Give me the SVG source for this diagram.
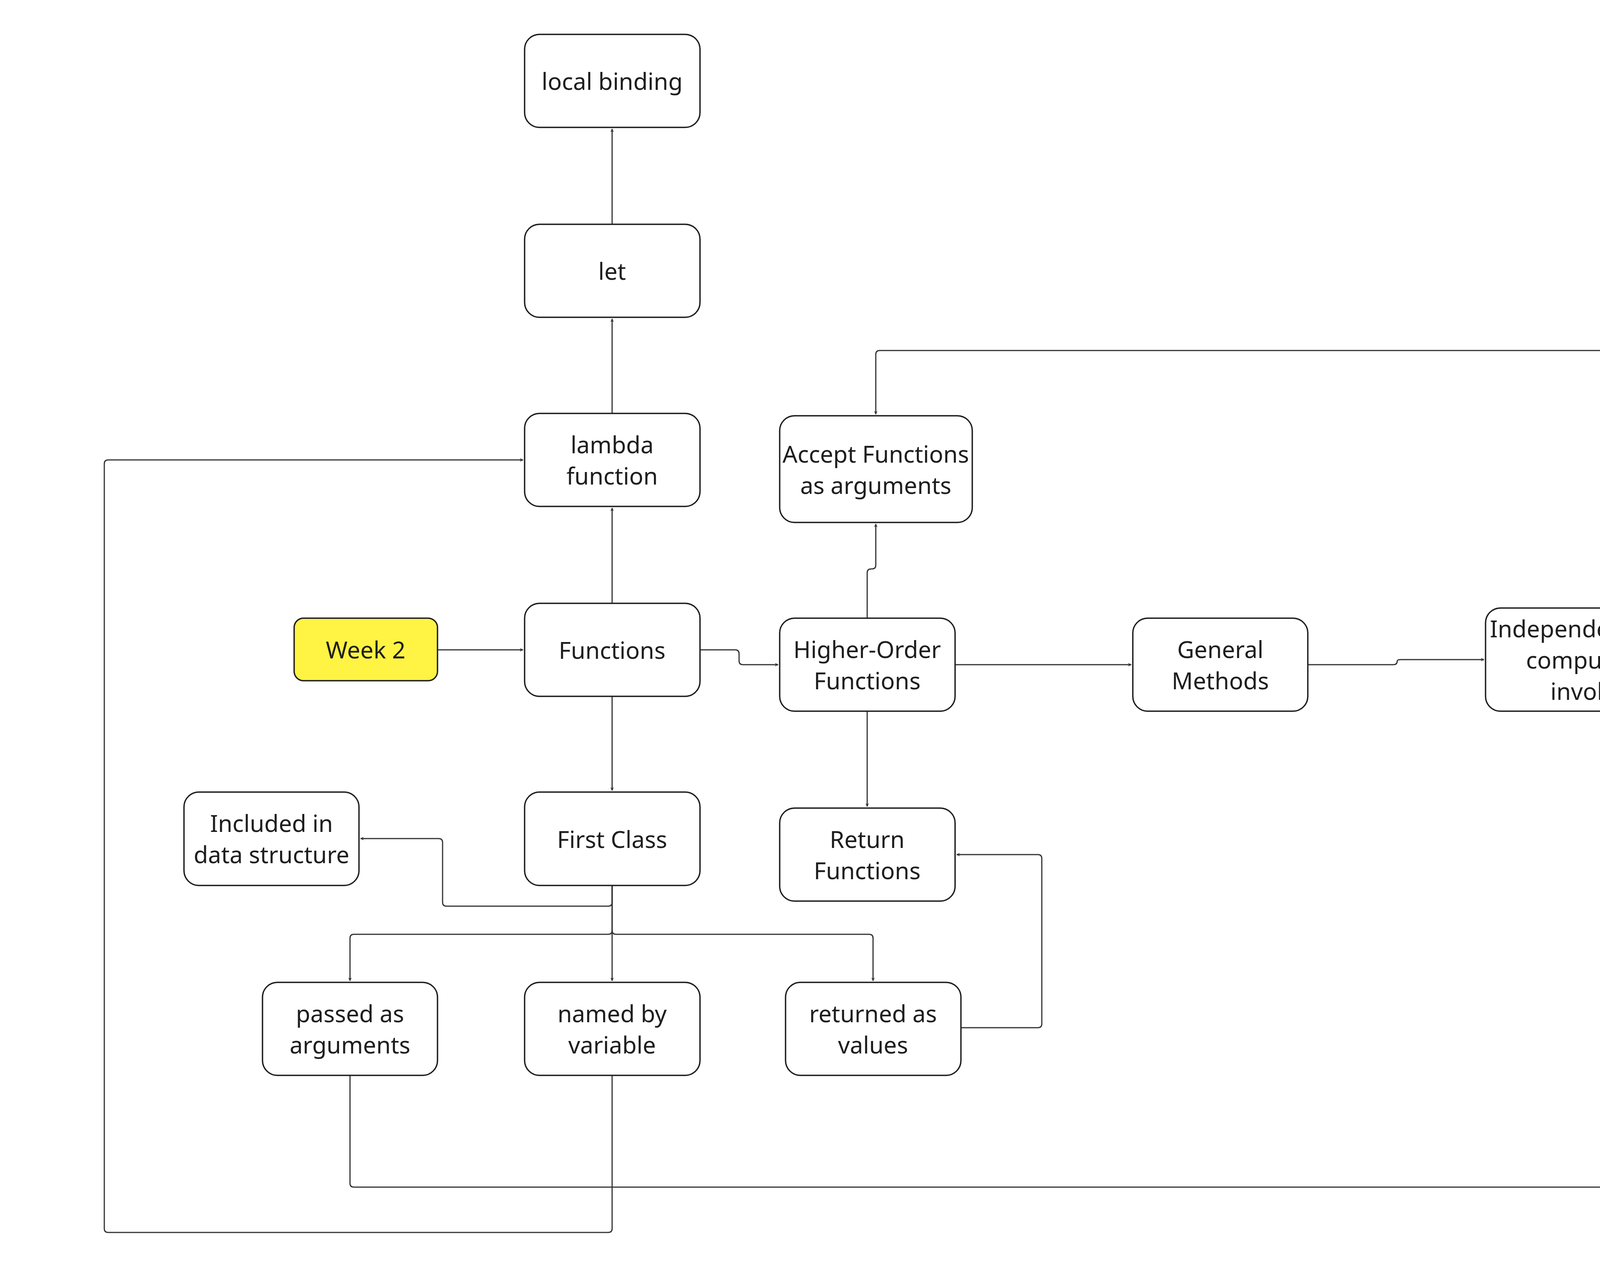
<svg xmlns="http://www.w3.org/2000/svg" width="4895" height="3268" viewBox="0 0 4895 3268">
<defs>
<style>
.n rect{fill:#fff;stroke:#1e1e1e;stroke-width:3.5}
.n text{font-family:"Noto Sans","Open Sans",sans-serif;font-size:60px;fill:#1e1e1e;text-anchor:middle;dominant-baseline:central}
.e path{fill:none;stroke:#333;stroke-width:3;marker-end:url(#a)}
</style>
<marker id="a" viewBox="0 0 10 10" refX="9" refY="5" markerWidth="9" markerHeight="9" markerUnits="userSpaceOnUse" orient="auto"><path d="M0,0 L10,5 L0,10 L3,5 Z" fill="#333"/></marker>
</defs>
<rect width="4895" height="3268" fill="#fff"/>
<g class="e">
<path d="M1120,1663 H1339"/>
<path d="M1567,1544 V1300"/>
<path d="M1567,1058 V816"/>
<path d="M1567,574 V330"/>
<path d="M1792,1663 H1882 Q1892,1663 1892,1673 V1691 Q1892,1701 1902,1701 H1992"/>
<path d="M2220,1582 V1466 Q2220,1456 2230,1456 H2232 Q2242,1456 2242,1446 V1341"/>
<path d="M2445,1701 H2896"/>
<path d="M3348,1701 H3567 Q3577,1701 3577,1691 Q3577,1688 3587,1688 H3799"/>
<path d="M2220,1820 V2064"/>
<path d="M1567,1782 V2023"/>
<path d="M1567,2266 V2309 Q1567,2319 1557,2319 H1143 Q1133,2319 1133,2309 V2156 Q1133,2146 1123,2146 H923"/>
<path d="M1567,2266 V2381 Q1567,2391 1557,2391 H906 Q896,2391 896,2401 V2510"/>
<path d="M1567,2266 V2510"/>
<path d="M1567,2381 Q1567,2391 1577,2391 H2225 Q2235,2391 2235,2401 V2510"/>
<path d="M2460,2630 H2657 Q2667,2630 2667,2620 V2197 Q2667,2187 2657,2187 H2449"/>
<path d="M896,2752 V3028 Q896,3038 906,3038 H4506 Q4516,3038 4516,3028 V907 Q4516,897 4506,897 H2252 Q2242,897 2242,907 V1060"/>
<path d="M1567,2752 V3144 Q1567,3154 1557,3154 H277 Q267,3154 267,3144 V1187 Q267,1177 277,1177 H1339"/>
</g>
<g id="local-binding" class="n"><rect x="1343" y="88" width="449" height="238" rx="38"/><text x="1567" y="207">local binding</text></g>
<g id="let" class="n"><rect x="1343" y="574" width="449" height="238" rx="38"/><text x="1567" y="693">let</text></g>
<g id="lambda" class="n"><rect x="1343" y="1058" width="449" height="238" rx="38"/><text x="1567" y="1137">lambda</text><text x="1567" y="1217">function</text></g>
<g id="accept" class="n"><rect x="1996" y="1064" width="493" height="273" rx="38"/><text x="2242" y="1161">Accept Functions</text><text x="2242" y="1241">as arguments</text></g>
<g id="week2" class="n"><rect x="753" y="1582" width="367" height="160" rx="24" style="fill:#fff343"/><text x="936" y="1662">Week 2</text></g>
<g id="functions" class="n"><rect x="1343" y="1544" width="449" height="238" rx="38"/><text x="1567" y="1663">Functions</text></g>
<g id="hof" class="n"><rect x="1996" y="1582" width="449" height="238" rx="38"/><text x="2220" y="1661">Higher-Order</text><text x="2220" y="1741">Functions</text></g>
<g id="general" class="n"><rect x="2900" y="1582" width="448" height="238" rx="38"/><text x="3124" y="1661">General</text><text x="3124" y="1741">Methods</text></g>
<g id="independent" class="n"><rect x="3803" y="1556" width="568" height="264" rx="38"/><text x="4087" y="1608">Independent of the</text><text x="4087" y="1688">computation</text><text x="4087" y="1768">involved</text></g>
<g id="included" class="n"><rect x="471" y="2027" width="448" height="239" rx="38"/><text x="695" y="2106">Included in</text><text x="695" y="2186">data structure</text></g>
<g id="first-class" class="n"><rect x="1343" y="2027" width="449" height="239" rx="38"/><text x="1567" y="2147">First Class</text></g>
<g id="return" class="n"><rect x="1996" y="2068" width="449" height="238" rx="38"/><text x="2220" y="2147">Return</text><text x="2220" y="2227">Functions</text></g>
<g id="passed" class="n"><rect x="672" y="2514" width="448" height="238" rx="38"/><text x="896" y="2593">passed as</text><text x="896" y="2673">arguments</text></g>
<g id="named" class="n"><rect x="1343" y="2514" width="449" height="238" rx="38"/><text x="1567" y="2593">named by</text><text x="1567" y="2673">variable</text></g>
<g id="returned" class="n"><rect x="2011" y="2514" width="449" height="238" rx="38"/><text x="2235" y="2593">returned as</text><text x="2235" y="2673">values</text></g>
</svg>
